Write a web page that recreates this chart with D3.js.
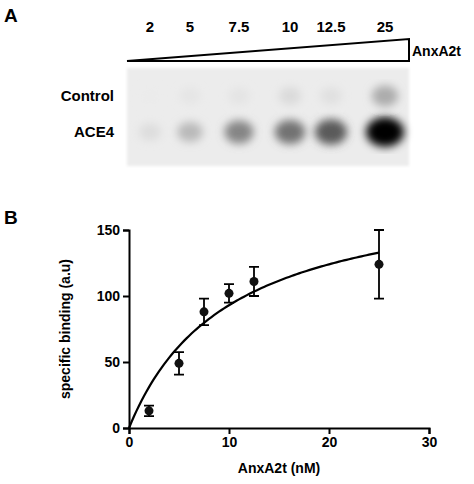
<!DOCTYPE html><html><head><meta charset="utf-8"><script src="https://cdn.jsdelivr.net/npm/d3@7"></script>
<style>body{margin:0;background:#fff}svg{font-family:"Liberation Sans",Arial,sans-serif;font-weight:bold}</style></head><body><svg width="474" height="484"></svg><script>
const lanes=["2","5","7.5","10","12.5","25"];
const controlIntensity=[0.03,0.07,0.08,0.14,0.1,0.35];
const ace4Intensity=[0.12,0.3,0.5,0.58,0.68,1.0];
const xs=[2,5,7.5,10,12.5,25];
const ys=[13,49,88,102,111,124];
const errs=[4,8.5,10,7,11,26];
const Bmax=186,Kd=10;
const svg=d3.select("svg");
svg.append("text").attr("x",4).attr("y",22).attr("font-size",19).text("A");
svg.append("text").attr("x",4).attr("y",224).attr("font-size",19).text("B");
const laneX=[150,190,239,290,331,385];
svg.selectAll(".ln").data(lanes).enter().append("text").attr("x",(d,i)=>laneX[i]).attr("y",32).attr("text-anchor","middle").attr("font-size",15).text(d=>d);
svg.append("path").attr("d","M127,61L409,39L409,61Z").attr("fill","#fff").attr("stroke","#000").attr("stroke-width",2);
svg.append("text").attr("x",412).attr("y",56).attr("font-size",14).text("AnxA2t");
const defs=svg.append("defs");
defs.append("filter").attr("id","bl").append("feGaussianBlur").attr("stdDeviation",4);
defs.append("filter").attr("id","bg").append("feGaussianBlur").attr("stdDeviation",1.5);
svg.append("rect").attr("x",127).attr("y",68).attr("width",282).attr("height",98).attr("fill","#ececec").attr("filter","url(#bg)");
const g=svg.append("g").attr("filter","url(#bl)");
function spots(arr,y){g.selectAll(null).data(arr).enter().append("ellipse").attr("cx",(d,i)=>laneX[i]).attr("cy",y).attr("rx",d=>10+d*9).attr("ry",d=>8+d*7).attr("fill",d=>d3.interpolateGreys(0.12+d*0.88));}
spots(controlIntensity,96);spots(ace4Intensity,132);
svg.append("text").attr("x",114).attr("y",101).attr("text-anchor","end").attr("font-size",15).text("Control");
svg.append("text").attr("x",114).attr("y",137).attr("text-anchor","end").attr("font-size",15).text("ACE4");
const x=d3.scaleLinear().domain([0,30]).range([129,429]);
const y=d3.scaleLinear().domain([0,150]).range([428,230]);
const style=a=>{a.selectAll("path,line").attr("stroke-width",2);a.selectAll("text").attr("font-size",14).attr("font-family","Liberation Sans").attr("font-weight","bold").attr("fill","#000");};
svg.append("g").attr("transform","translate(0,428)").call(d3.axisBottom(x).tickValues([0,10,20,30]).tickSizeOuter(0).tickSize(6)).call(style);
svg.append("g").attr("transform","translate(129,0)").call(d3.axisLeft(y).tickValues([0,50,100,150]).tickSizeOuter(0).tickSize(6)).call(style);
svg.append("text").attr("x",279).attr("y",473).attr("text-anchor","middle").attr("font-size",14).text("AnxA2t (nM)");
svg.append("text").attr("transform","translate(70,329) rotate(-90)").attr("text-anchor","middle").attr("font-size",14).text("specific binding (a.u)");
const curve=d3.range(0,25.01,0.25).map(v=>[v,Bmax*v/(Kd+v)]);
svg.append("path").attr("d",d3.line().x(d=>x(d[0])).y(d=>y(d[1]))(curve)).attr("fill","none").attr("stroke","#000").attr("stroke-width",2.2);
xs.forEach((v,i)=>{
 const cx=x(v);
 svg.append("path").attr("d",`M${cx},${y(ys[i]-errs[i])}V${y(ys[i]+errs[i])}M${cx-5},${y(ys[i]-errs[i])}H${cx+5}M${cx-5},${y(ys[i]+errs[i])}H${cx+5}`).attr("stroke","#000").attr("stroke-width",1.8).attr("fill","none");
 svg.append("circle").attr("cx",cx).attr("cy",y(ys[i])).attr("r",4.5).attr("fill","#111");
});
</script></body></html>
